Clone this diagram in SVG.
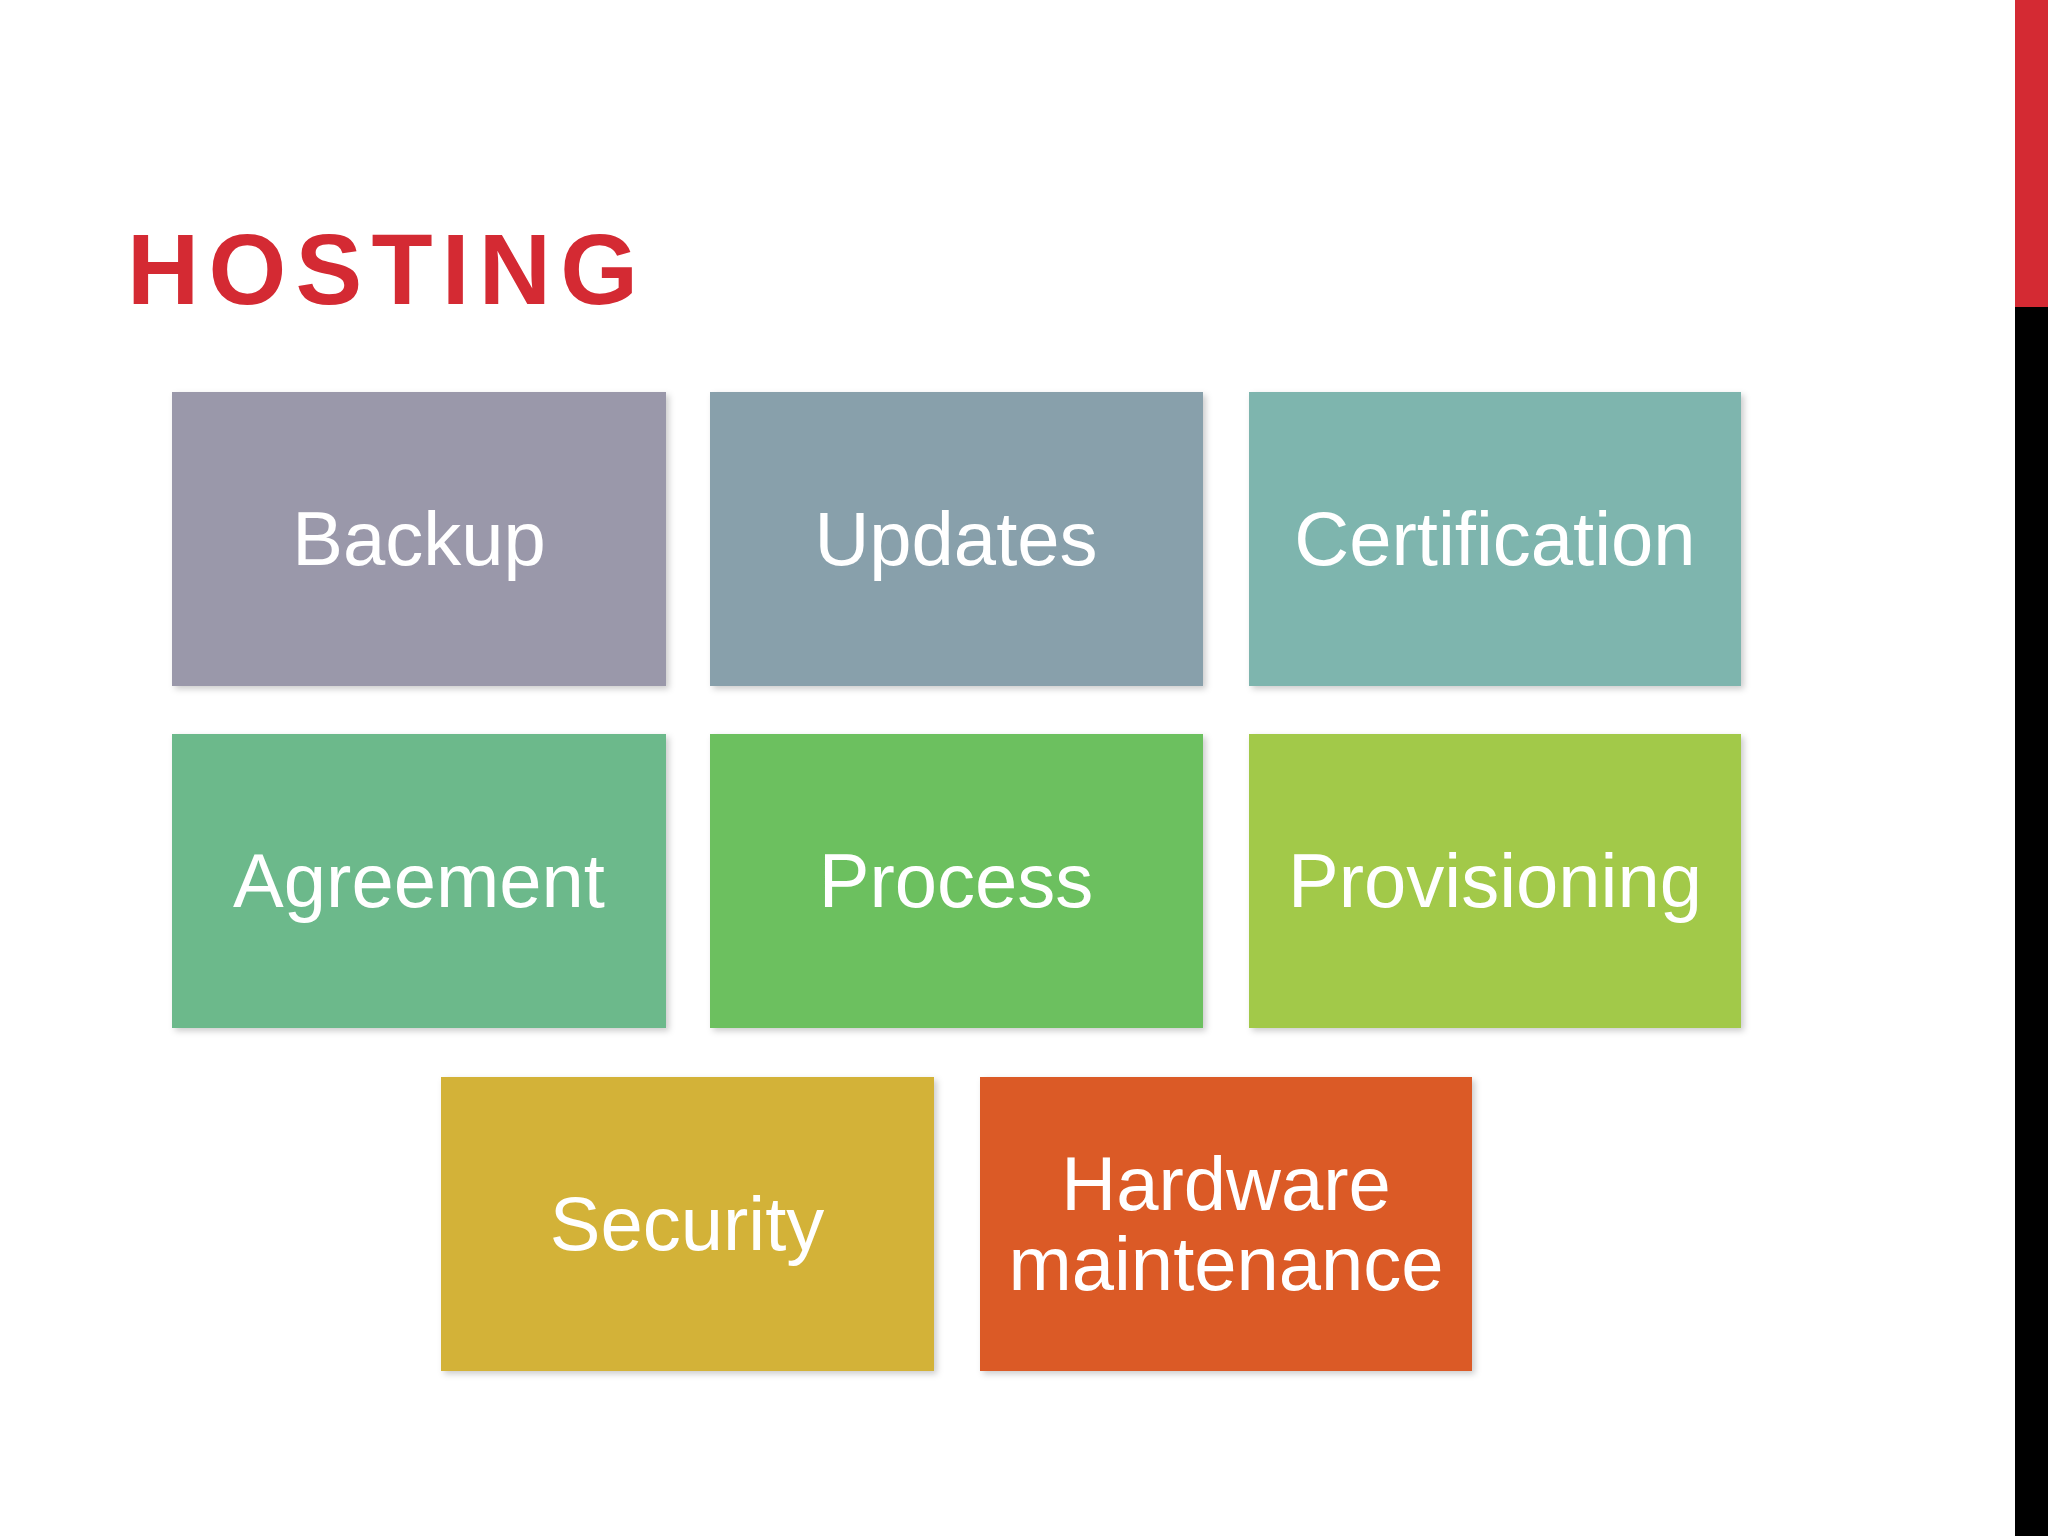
<svg xmlns="http://www.w3.org/2000/svg" width="2048" height="1536" viewBox="0 0 2048 1536">
<defs>
<filter id="sh" x="-5%" y="-5%" width="115%" height="115%"><feDropShadow dx="3" dy="3" stdDeviation="3" flood-color="#000" flood-opacity="0.2"/></filter>
</defs>
<style>
.b{filter:url(#sh)}
.t{font-family:"Liberation Sans",Arial,sans-serif;font-size:76px;fill:#fff;text-anchor:middle}
</style>
<rect width="2048" height="1536" fill="#fff"/>
<rect x="2015" y="0" width="33" height="307" fill="#D42A33"/>
<rect x="2015" y="307" width="33" height="1229" fill="#000"/>
<text x="127" y="304" font-family="Liberation Sans,Arial,sans-serif" font-weight="bold" font-size="100" fill="#D42A33" textLength="511">HOSTING</text>
<g id="backup"><rect class="b" x="172" y="392" width="494" height="294" fill="#9A98AA"/><text class="t" x="419" y="565">Backup</text></g>
<g id="updates"><rect class="b" x="710" y="392" width="493" height="294" fill="#88A0AB"/><text class="t" x="956" y="565">Updates</text></g>
<g id="certification"><rect class="b" x="1249" y="392" width="492" height="294" fill="#7EB5AE"/><text class="t" x="1495" y="565">Certification</text></g>
<g id="agreement"><rect class="b" x="172" y="734" width="494" height="294" fill="#6CB98B"/><text class="t" x="419" y="907">Agreement</text></g>
<g id="process"><rect class="b" x="710" y="734" width="493" height="294" fill="#6CC05E"/><text class="t" x="956" y="907">Process</text></g>
<g id="provisioning"><rect class="b" x="1249" y="734" width="492" height="294" fill="#A2C94A"/><text class="t" x="1495" y="907">Provisioning</text></g>
<g id="security"><rect class="b" x="441" y="1077" width="493" height="294" fill="#D3B238"/><text class="t" x="687" y="1250">Security</text></g>
<g id="hardware"><rect class="b" x="980" y="1077" width="492" height="294" fill="#DB5A25"/><text class="t" x="1226" y="1210">Hardware</text><text class="t" x="1226" y="1290">maintenance</text></g>
<g id="connectors"/>
</svg>
